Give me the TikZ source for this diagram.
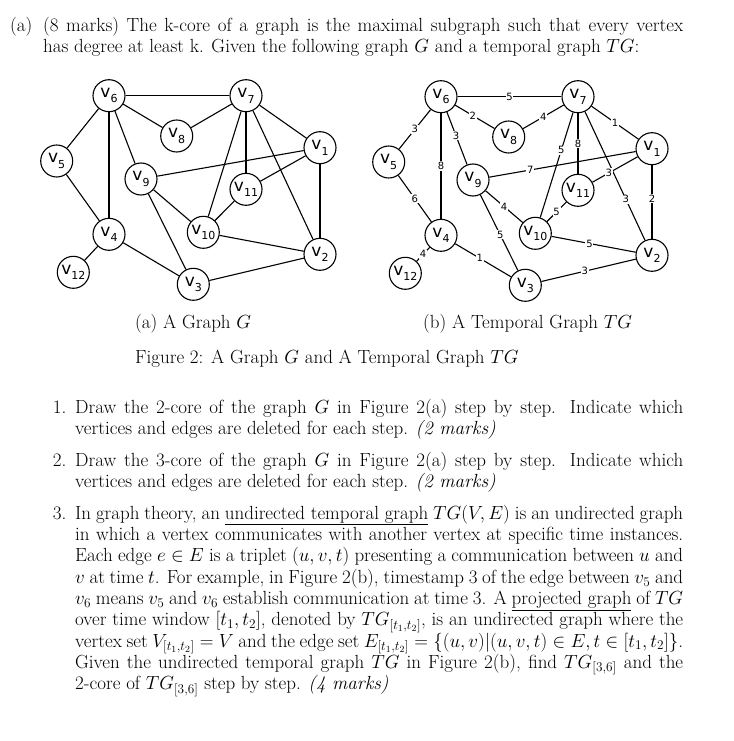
\RequirePackage{fix-cm}
\documentclass[tikz,border=0pt]{standalone}
\usepackage{fontspec}
\newfontfamily\gfont{DejaVu Sans}
\newcommand\vv[1]{v\raisebox{-0.32em}{\fontsize{11}{11}\selectfont #1}}
\tikzset{
  vtx/.style={circle, draw, line width=1.1pt, minimum size=32pt, inner sep=0pt, fill=white,
    font=\gfont\fontsize{17}{17}\selectfont},
  edg/.style={line width=1.1pt},
  elab/.style={fill=white, inner sep=0.8pt, font=\gfont\fontsize{10}{10}\selectfont},
  body/.style={anchor=base west, inner sep=0pt, align=justify,
    font=\fontsize{19}{21.3}\selectfont},
  lbl/.style={anchor=base west, inner sep=0pt, font=\fontsize{19}{21.3}\selectfont}
}
\begin{document}
\begin{tikzpicture}[x=1pt,y=-1pt]
\useasboundingbox (0,0) rectangle (733,741);
% ---------- Graph G ----------
\begin{scope}
\node[vtx] (a6)  at (109,95.7)  {\vv{6}};
\node[vtx] (a7)  at (246,95.7)  {\vv{7}};
\node[vtx] (a8)  at (176.7,136) {\vv{8}};
\node[vtx] (a1)  at (320,147.7) {\vv{1}};
\node[vtx] (a5)  at (56.7,161)  {\vv{5}};
\node[vtx] (a9)  at (141,179)   {\vv{9}};
\node[vtx] (a11) at (246,189.3) {\vv{11}};
\node[vtx] (a10) at (203.3,232.3) {\vv{10}};
\node[vtx] (a4)  at (109,234.3) {\vv{4}};
\node[vtx] (a2)  at (320,254.3) {\vv{2}};
\node[vtx] (a12) at (73.3,272.3) {\vv{12}};
\node[vtx] (a3)  at (193.3,284.3) {\vv{3}};
\draw[edg] (a6) -- (a7);
\draw[edg] (a6) -- (a8);
\draw[edg] (a7) -- (a8);
\draw[edg] (a7) -- (a1);
\draw[edg] (a6) -- (a5);
\draw[edg] (a6) -- (a4);
\draw[edg] (a6) -- (a9);
\draw[edg] (a7) -- (a10);
\draw[edg] (a7) -- (a11);
\draw[edg] (a7) -- (a2);
\draw[edg] (a1) -- (a9);
\draw[edg] (a1) -- (a11);
\draw[edg] (a1) -- (a2);
\draw[edg] (a5) -- (a4);
\draw[edg] (a9) -- (a10);
\draw[edg] (a9) -- (a3);
\draw[edg] (a11) -- (a10);
\draw[edg] (a10) -- (a2);
\draw[edg] (a4) -- (a12);
\draw[edg] (a4) -- (a3);
\draw[edg] (a3) -- (a2);
\end{scope}
% ---------- Temporal graph TG ----------
\begin{scope}[shift={(332,1)}]
\node[vtx] (b6)  at (109,95.7)  {\vv{6}};
\node[vtx] (b7)  at (246,95.7)  {\vv{7}};
\node[vtx] (b8)  at (176.7,136) {\vv{8}};
\node[vtx] (b1)  at (320,147.7) {\vv{1}};
\node[vtx] (b5)  at (56.7,161)  {\vv{5}};
\node[vtx] (b9)  at (141,179)   {\vv{9}};
\node[vtx] (b11) at (246,189.3) {\vv{11}};
\node[vtx] (b10) at (203.3,232.3) {\vv{10}};
\node[vtx] (b4)  at (109,234.3) {\vv{4}};
\node[vtx] (b2)  at (320,254.3) {\vv{2}};
\node[vtx] (b12) at (73.3,272.3) {\vv{12}};
\node[vtx] (b3)  at (193.3,284.3) {\vv{3}};
\draw[edg] (b6) -- node[elab,pos=0.5]{5} (b7);
\draw[edg] (b6) -- node[elab,pos=0.45]{2} (b8);
\draw[edg] (b7) -- node[elab,pos=0.5]{4} (b8);
\draw[edg] (b7) -- node[elab,pos=0.5]{1} (b1);
\draw[edg] (b6) -- node[elab,pos=0.5]{3} (b5);
\draw[edg] (b6) -- node[elab,pos=0.5]{8} (b4);
\draw[edg] (b6) -- node[elab,pos=0.45]{3} (b9);
\draw[edg] (b7) -- node[elab,pos=0.36]{5} (b10);
\draw[edg] (b7) -- node[elab,pos=0.5]{8} (b11);
\draw[edg] (b7) -- node[elab,pos=0.68]{3} (b2);
\draw[edg] (b1) -- node[elab,pos=0.72]{7} (b9);
\draw[edg] (b1) -- node[elab,pos=0.64]{3} (b11);
\draw[edg] (b1) -- node[elab,pos=0.45]{2} (b2);
\draw[edg] (b5) -- node[elab,pos=0.5]{6} (b4);
\draw[edg] (b9) -- node[elab,pos=0.5]{4} (b10);
\draw[edg] (b9) -- node[elab,pos=0.53]{5} (b3);
\draw[edg] (b11) -- node[elab,pos=0.5]{5} (b10);
\draw[edg] (b10) -- node[elab,pos=0.45]{5} (b2);
\draw[edg] (b4) -- node[elab,pos=0.5]{4} (b12);
\draw[edg] (b4) -- node[elab,pos=0.44]{1} (b3);
\draw[edg] (b3) -- node[elab,pos=0.46]{3} (b2);
\end{scope}
% ---------- Text ----------
\node[lbl] (pa) at (10,31.7) {(a)};
\node[body, text width=640pt] (ptxt) at (43,31.7) {(8 marks) The k-core of a graph is the maximal subgraph such that every vertex\linebreak has degree at least k. Given the following graph $G$ and a temporal graph $TG$:};
\node[lbl] (capa) at (135,328) {(a) A Graph $G$};
\node[lbl] (capb) at (423,328) {(b) A Temporal Graph $TG$};
\node[lbl] (fig) at (135,363) {Figure 2: A Graph $G$ and A Temporal Graph $TG$};
\node[lbl] (n1) at (52.7,413.3) {1.};
\node[body, text width=608pt] (t1) at (75,413.3) {Draw the 2-core of the graph $G$ in Figure 2(a) step by step. Indicate which\linebreak vertices and edges are deleted for each step. \textit{(2 marks)}};
\node[lbl] (n2) at (52.7,466) {2.};
\node[body, text width=608pt] (t2) at (75,466) {Draw the 3-core of the graph $G$ in Figure 2(a) step by step. Indicate which\linebreak vertices and edges are deleted for each step. \textit{(2 marks)}};
\node[lbl] (n3) at (52.7,519.3) {3.};
\node[body, text width=608pt] (t3) at (75,519.3) {In graph theory, an \underline{undirected temporal graph} $TG(V,E)$ is an undirected graph\linebreak
in which a vertex communicates with another vertex at specific time instances.\linebreak
Each edge $e\in E$ is a triplet $(u,v,t)$ presenting a communication between $u$ and\linebreak
$v$ at time $t$. For example, in Figure 2(b), timestamp 3 of the edge between $v_5$ and\linebreak
$v_6$ means $v_5$ and $v_6$ establish communication at time 3. A \underline{projected graph} of $TG$\linebreak
over time window $[t_1,t_2]$, denoted by $TG_{[t_1,t_2]}$, is an undirected graph where the\linebreak
vertex set $V_{[t_1,t_2]}=V$ and the edge set $E_{[t_1,t_2]}=\{(u,v)|(u,v,t)\in E,t\in[t_1,t_2]\}$.\linebreak
Given the undirected temporal graph $TG$ in Figure 2(b), find $TG_{[3,6]}$ and the\linebreak
2-core of $TG_{[3,6]}$ step by step. \textit{(4 marks)}};
\end{tikzpicture}
\end{document}
